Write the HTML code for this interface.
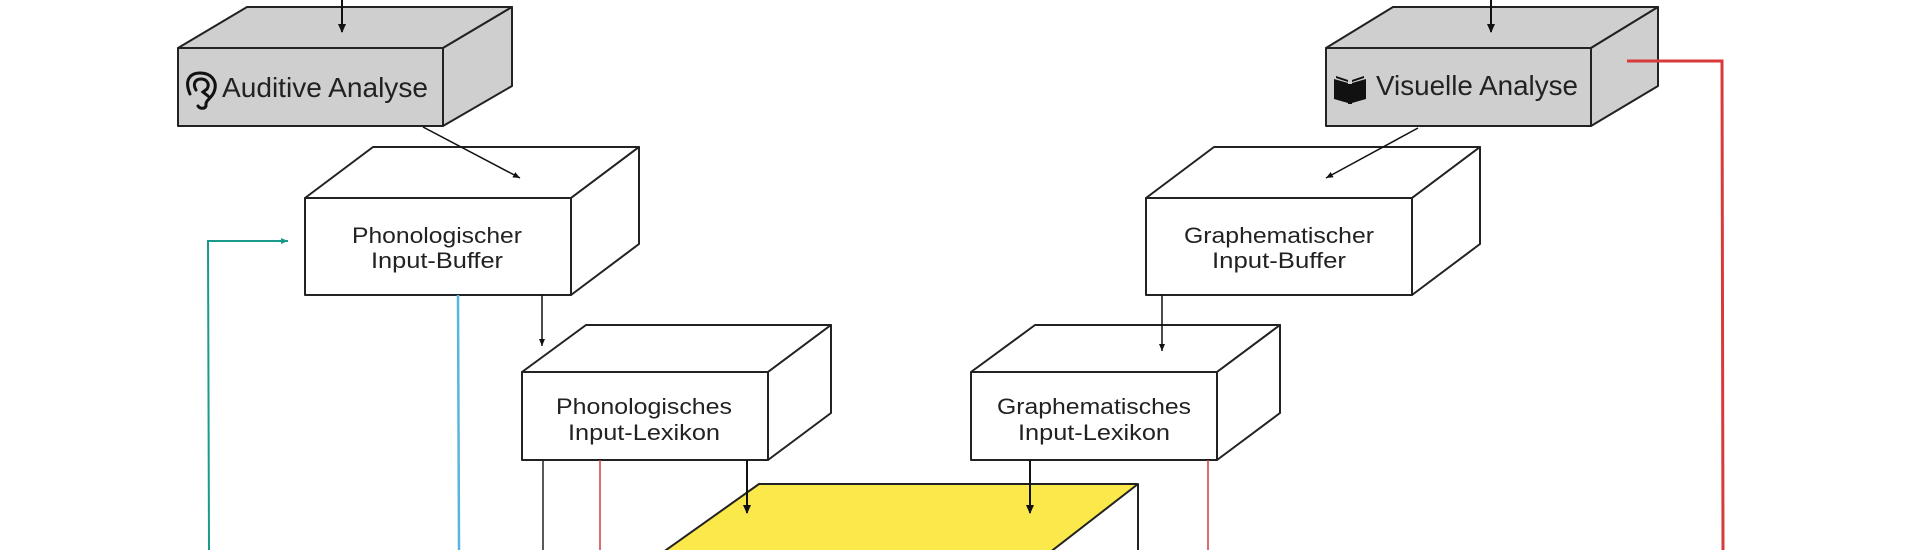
<!DOCTYPE html>
<html><head><meta charset="utf-8"><style>
html,body{margin:0;padding:0;background:#fff;}
svg{display:block;}
text{font-family:"Liberation Sans",sans-serif;fill:#222;}
</style></head><body>
<svg width="1920" height="550" viewBox="0 0 1920 550" xmlns="http://www.w3.org/2000/svg">
<defs>
<marker id="ah" markerWidth="10" markerHeight="10" refX="8" refY="5" orient="auto" markerUnits="userSpaceOnUse">
<path d="M0,1 L9,5 L0,9 z" fill="#111"/></marker>
<marker id="ahs" markerWidth="8" markerHeight="8" refX="7" refY="4" orient="auto" markerUnits="userSpaceOnUse">
<path d="M0,1 L7,4 L0,7 z" fill="#111"/></marker>
<marker id="aht" markerWidth="8" markerHeight="8" refX="7" refY="4" orient="auto" markerUnits="userSpaceOnUse">
<path d="M0,1 L7,4 L0,7 z" fill="#1a9a8a"/></marker>
</defs>
<g stroke="#222" stroke-width="2" stroke-linejoin="round">
<polygon points="759,484 1138,484 1040,560 652,560" fill="#fbe84a"/>
<line x1="1138" y1="484" x2="1138" y2="560"/>
<rect x="178" y="48" width="265" height="78" fill="#cfcfcf"/>
<polygon points="178,48 247,7 512,7 443,48" fill="#cfcfcf"/>
<polygon points="443,48 512,7 512,86 443,126" fill="#cfcfcf"/>
<rect x="1326" y="48" width="265" height="78" fill="#cfcfcf"/>
<polygon points="1326,48 1393,7 1658,7 1591,48" fill="#cfcfcf"/>
<polygon points="1591,48 1658,7 1658,86 1591,126" fill="#cfcfcf"/>
<rect x="305" y="198" width="266" height="97" fill="#fff"/>
<polygon points="305,198 373,147 639,147 571,198" fill="#fff"/>
<polygon points="571,198 639,147 639,244 571,295" fill="#fff"/>
<rect x="1146" y="198" width="266" height="97" fill="#fff"/>
<polygon points="1146,198 1214,147 1480,147 1412,198" fill="#fff"/>
<polygon points="1412,198 1480,147 1480,244 1412,295" fill="#fff"/>
<rect x="522" y="372" width="246" height="88" fill="#fff"/>
<polygon points="522,372 586,325 831,325 768,372" fill="#fff"/>
<polygon points="768,372 831,325 831,413 768,460" fill="#fff"/>
<rect x="971" y="372" width="246" height="88" fill="#fff"/>
<polygon points="971,372 1035,325 1280,325 1217,372" fill="#fff"/>
<polygon points="1217,372 1280,325 1280,413 1217,460" fill="#fff"/>
</g>
<g fill="none">
<line x1="342" y1="0" x2="342" y2="32" stroke="#111" stroke-width="2" marker-end="url(#ah)"/>
<line x1="1491" y1="0" x2="1491" y2="32" stroke="#111" stroke-width="2" marker-end="url(#ah)"/>
<line x1="423" y1="127" x2="520" y2="178" stroke="#111" stroke-width="1.5" marker-end="url(#ahs)"/>
<line x1="1418" y1="128" x2="1326" y2="178" stroke="#111" stroke-width="1.5" marker-end="url(#ahs)"/>
<line x1="542" y1="295" x2="542" y2="346" stroke="#111" stroke-width="1.5" marker-end="url(#ahs)"/>
<line x1="1162" y1="295" x2="1162" y2="351" stroke="#111" stroke-width="1.5" marker-end="url(#ahs)"/>
<line x1="747" y1="460" x2="747" y2="513" stroke="#111" stroke-width="2" marker-end="url(#ah)"/>
<line x1="1030" y1="460" x2="1030" y2="513" stroke="#111" stroke-width="2" marker-end="url(#ah)"/>
<polyline points="209,550 208,241 288,241" stroke="#1a9a8a" stroke-width="2" marker-end="url(#aht)"/>
<line x1="458" y1="295" x2="459" y2="550" stroke="#5ab4e0" stroke-width="2.5"/>
<line x1="543" y1="460" x2="543" y2="550" stroke="#222" stroke-width="1.5"/>
<line x1="600" y1="460" x2="600" y2="550" stroke="#c84040" stroke-width="1.5"/>
<line x1="1208" y1="460" x2="1208" y2="550" stroke="#c84040" stroke-width="1.5"/>
<polyline points="1627,61 1722,61 1723,550" stroke="#d83a3a" stroke-width="3"/>
</g>
<g fill="none" stroke="#111" stroke-width="3" stroke-linecap="round">
<path d="M190,94 C184,80 190,73 200,73 C212,73 218,82 214,92 C211,99 205,100 206,106 C205,109 200,109 198,106"/>
<path d="M196,90 C192,83 196,79 201,79 C207,79 210,84 207,89 L203,92 L208,96"/>
</g>
<g fill="#111">
<path d="M1334,79 L1348,83 L1348,103 L1334,99 z"/>
<path d="M1366,79 L1352,83 L1352,103 L1366,99 z"/>
<rect x="1348" y="84" width="4" height="20"/>
<path d="M1336,76 L1348,80 L1348,82 L1336,78 z"/>
<path d="M1364,76 L1352,80 L1352,82 L1364,78 z"/>
</g>
<text x="222" y="97" font-size="28" textLength="206" lengthAdjust="spacingAndGlyphs">Auditive Analyse</text>
<text x="1376" y="95" font-size="28" textLength="202" lengthAdjust="spacingAndGlyphs">Visuelle Analyse</text>
<g font-size="22" text-anchor="middle" lengthAdjust="spacingAndGlyphs">
<text x="437" y="243" textLength="170" lengthAdjust="spacingAndGlyphs">Phonologischer</text>
<text x="437" y="268" textLength="132" lengthAdjust="spacingAndGlyphs">Input-Buffer</text>
<text x="1279" y="243" textLength="190" lengthAdjust="spacingAndGlyphs">Graphematischer</text>
<text x="1279" y="268" textLength="134" lengthAdjust="spacingAndGlyphs">Input-Buffer</text>
<text x="644" y="414" textLength="176" lengthAdjust="spacingAndGlyphs">Phonologisches</text>
<text x="644" y="440" textLength="152" lengthAdjust="spacingAndGlyphs">Input-Lexikon</text>
<text x="1094" y="414" textLength="194" lengthAdjust="spacingAndGlyphs">Graphematisches</text>
<text x="1094" y="440" textLength="152" lengthAdjust="spacingAndGlyphs">Input-Lexikon</text>
</g>
</svg>
</body></html>
